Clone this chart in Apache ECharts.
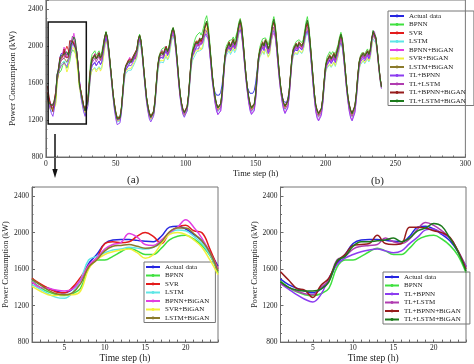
<!DOCTYPE html>
<html><head><meta charset="utf-8">
<script src="https://cdn.jsdelivr.net/npm/echarts@6/dist/echarts.min.js"></script>
<style>html,body{margin:0;padding:0;background:#fff}#c{width:474px;height:364px}</style>
</head><body><div id="c"></div>
<script>
const FONT = 'Liberation Serif';
const seriesNames = ['Actual data','BPNN','SVR','LSTM','BPNN+BiGAN','SVR+BiGAN','LSTM+BiGAN','TL+BPNN','TL+LSTM','TL+BPNN+BiGAN','TL+LSTM+BiGAN'];
const leftNames = ['Actual data','BPNN','SVR','LSTM','BPNN+BiGAN','SVR+BiGAN','LSTM+BiGAN'];
const rightNames = ['Actual data','BPNN','TL+BPNN','TL+LSTM','TL+BPNN+BiGAN','TL+LSTM+BiGAN'];
const colors = ['#2626e0','#3fe03f','#e31b1b','#5ee6e6','#e23ee2','#f0f03a','#8a7a2a','#8c3cf0','#b03cb0','#971c1c','#1c7a1c'];
const hours = [1,2,3,4,5,6,7,8,9,10,11,12,13,14,15,16,17,18,19,20,21,22,23,24];
const xTicksTop = [0,50,100,150,200,250,300];
const yTicks = [800,1200,1600,2000,2400];
const bottomXLabels = [5,10,15,20];
// zoom box drawn on the top panel (time step, kW)
const zoomBox = {t0: 1.6, t1: 28.9, v0: 1157, v1: 2263};

// Day 1 (shown in the lower panels)
const actual1 = [1490,1430,1390,1360,1340,1380,1480,1660,1760,1880,1920,1925,1925,1915,1905,1900,1960,2060,2070,2040,1980,1910,1790,1630];
const bpnn1 = [1470,1400,1350,1320,1310,1330,1390,1620,1700,1700,1740,1790,1830,1800,1760,1760,1830,1920,1960,1970,1930,1860,1750,1560];
const svr1 = [1500,1440,1390,1350,1340,1400,1510,1640,1720,1880,1900,1890,1900,1960,2000,1960,1880,2000,2060,2080,2020,2000,1820,1600];
const lstm1 = [1430,1380,1330,1290,1280,1340,1480,1700,1740,1780,1810,1820,1840,1830,1820,1840,1890,1990,2030,2020,1960,1880,1760,1590];
const bpnnBigan1 = [1460,1400,1390,1370,1360,1380,1480,1640,1720,1820,1870,1890,1990,1950,1870,1860,1920,2000,2060,2140,2060,1940,1780,1600];
const svrBigan1 = [1410,1360,1320,1310,1320,1320,1360,1600,1700,1760,1790,1810,1820,1780,1720,1760,1880,1980,2000,1980,1920,1840,1700,1540];
const lstmBigan1 = [1490,1430,1370,1330,1320,1340,1440,1620,1700,1800,1850,1860,1870,1850,1830,1840,1900,2010,2050,2050,1990,1910,1780,1580];
const tlBpnn1 = [1440,1380,1320,1270,1240,1320,1500,1650,1720,1760,1790,1810,1820,1800,1780,1800,1880,1950,2030,2040,1990,1940,1800,1620];
const tlLstm1 = [1440,1400,1360,1330,1320,1400,1480,1700,1740,1820,1850,1860,1870,1940,1900,1880,1930,2040,2110,2080,2020,1940,1800,1620];
const tlBpnnBigan1 = [1570,1480,1390,1370,1290,1420,1500,1680,1760,1860,1870,1880,1970,1880,1870,1880,2060,2060,2050,2020,2000,1950,1800,1600];
const tlLstmBigan1 = [1460,1400,1370,1360,1360,1380,1460,1690,1740,1850,1900,1900,1910,1920,1940,1900,1940,2020,2050,2100,2070,1940,1790,1580];

// Days 2-10 (top panel only)
const actualRest = [
1500,1420,1340,1290,1300,1390,1560,1720,1790,1800,1820,1790,1810,1840,1800,1830,1920,2030,2100,2060,1940,1790,1640,1480,
1360,1260,1190,1170,1200,1300,1480,1660,1740,1760,1790,1820,1800,1830,1870,1850,1920,2020,2080,2030,1900,1730,1570,1420,
1330,1260,1220,1230,1270,1380,1570,1750,1850,1880,1900,1870,1920,1950,1900,1940,2030,2110,2150,2100,1970,1800,1620,1470,
1370,1300,1270,1280,1330,1450,1640,1830,1900,1930,1970,2000,1980,2020,2000,2040,2100,2140,2160,2110,1980,1820,1650,1540,
1500,1470,1460,1470,1500,1580,1720,1880,1950,1960,1990,1950,1980,2010,1970,2000,2080,2160,2200,2150,2020,1850,1690,1560,
1520,1490,1480,1490,1520,1600,1730,1870,1930,1960,1990,1960,2020,1990,1930,1960,2070,2150,2190,2140,2000,1820,1660,1530,
1460,1400,1380,1390,1430,1520,1680,1850,1930,1960,1980,1950,1990,2010,1960,1990,2070,2130,2160,2110,1970,1800,1620,1450,
1340,1280,1250,1260,1300,1410,1590,1740,1800,1820,1850,1820,1840,1870,1830,1850,1940,2010,2060,2010,1880,1720,1560,1430,
1340,1280,1250,1270,1330,1460,1640,1790,1850,1870,1890,1860,1880,1910,1870,1920,2050,2150,2170,2080,1940,1790,1650,1560];
const bpnnRest = [
1520,1430,1350,1310,1330,1440,1650,1830,1910,1930,1950,1900,1920,1950,1900,1940,2020,2100,2160,2090,1960,1800,1650,1500,
1380,1290,1230,1210,1240,1340,1520,1700,1780,1800,1830,1850,1830,1860,1880,1870,1950,2060,2130,2070,1930,1760,1600,1450,
1350,1280,1250,1260,1300,1420,1620,1800,1900,1940,1970,1950,1990,2010,1960,2000,2090,2170,2200,2140,2000,1830,1650,1490,
1360,1290,1250,1250,1300,1440,1660,1880,1980,2040,2090,2120,2100,2150,2120,2160,2220,2290,2330,2240,2080,1890,1700,1560,
1460,1380,1340,1330,1380,1500,1700,1900,2000,2030,2060,2040,2070,2100,2060,2080,2170,2260,2300,2230,2070,1880,1700,1560,
1450,1370,1330,1320,1370,1480,1680,1880,1990,2040,2080,2060,2090,2060,2010,2030,2150,2260,2320,2240,2080,1880,1700,1550,
1450,1380,1350,1350,1400,1510,1700,1900,1990,2020,2050,2030,2070,2090,2040,2070,2160,2260,2320,2230,2060,1870,1680,1500,
1360,1300,1270,1270,1320,1430,1620,1800,1880,1900,1940,1910,1940,1960,1920,1940,2020,2100,2150,2090,1950,1780,1600,1460,
1360,1300,1270,1280,1340,1480,1660,1830,1900,1930,1950,1920,1940,1970,1930,1970,2080,2140,2150,2090,1960,1800,1650,1550];
const svrRest = [
1510,1440,1360,1310,1310,1400,1580,1760,1850,1880,1910,1860,1880,1900,1850,1880,1970,2080,2140,2080,1950,1800,1650,1490,
1370,1280,1220,1200,1230,1330,1500,1690,1770,1800,1840,1870,1820,1860,1900,1860,1940,2050,2110,2050,1920,1750,1590,1440,
1340,1270,1240,1250,1290,1400,1590,1780,1870,1910,1940,1900,1950,1990,1920,1960,2060,2140,2180,2120,1980,1810,1630,1480,
1380,1310,1280,1290,1340,1460,1650,1850,1930,1970,2020,2060,2010,2080,2040,2090,2150,2210,2250,2170,2020,1850,1680,1550,
1430,1360,1320,1310,1360,1480,1680,1870,1960,1990,2040,1990,2030,2070,2010,2040,2130,2220,2260,2190,2040,1860,1690,1550,
1440,1360,1310,1300,1350,1460,1660,1850,1950,1990,2030,2000,2060,2020,1960,1990,2110,2210,2260,2190,2040,1850,1680,1540,
1440,1370,1340,1340,1390,1500,1690,1880,1960,1990,2020,1980,2030,2050,1990,2020,2110,2200,2240,2170,2020,1840,1660,1480,
1350,1290,1260,1260,1310,1420,1610,1770,1830,1850,1890,1850,1870,1900,1860,1880,1970,2050,2100,2050,1910,1750,1580,1440,
1350,1290,1260,1280,1340,1470,1660,1810,1870,1900,1920,1890,1910,1940,1900,1950,2070,2140,2140,2070,1940,1790,1650,1560];
const lstmRest = [
1450,1370,1300,1260,1270,1360,1520,1680,1740,1760,1770,1740,1760,1780,1750,1780,1870,1980,2050,2010,1900,1750,1600,1450,
1330,1240,1180,1160,1190,1290,1450,1620,1700,1720,1740,1760,1740,1770,1800,1790,1870,1970,2030,1990,1870,1710,1550,1400,
1300,1230,1200,1210,1250,1360,1540,1710,1800,1830,1850,1820,1860,1890,1850,1880,1970,2060,2110,2060,1930,1770,1600,1450,
1340,1270,1240,1250,1300,1420,1600,1780,1850,1880,1910,1940,1920,1950,1930,1970,2040,2120,2170,2100,1970,1800,1630,1520,
1400,1330,1290,1280,1330,1450,1640,1820,1900,1920,1950,1910,1940,1970,1930,1960,2040,2130,2190,2130,1990,1820,1660,1530,
1410,1330,1290,1280,1330,1440,1630,1810,1880,1910,1940,1910,1960,1940,1890,1920,2030,2120,2170,2110,1970,1800,1640,1510,
1410,1340,1310,1310,1360,1470,1650,1820,1890,1920,1940,1910,1950,1970,1920,1950,2030,2110,2150,2090,1950,1780,1600,1440,
1320,1260,1230,1230,1280,1390,1560,1710,1760,1780,1800,1770,1790,1820,1780,1800,1890,1980,2030,1980,1860,1700,1540,1410,
1320,1260,1230,1250,1310,1430,1600,1750,1800,1820,1840,1810,1830,1860,1830,1870,1990,2080,2100,2030,1910,1760,1620,1540];
const bpnnBiganRest = [
1490,1400,1320,1280,1300,1400,1580,1760,1840,1880,1920,1860,1900,1930,1870,1900,1990,2080,2120,2060,1930,1780,1630,1470,
1340,1250,1190,1180,1220,1320,1500,1680,1770,1800,1850,1880,1820,1870,1910,1870,1950,2040,2090,2030,1900,1730,1570,1420,
1310,1240,1210,1220,1270,1390,1580,1770,1870,1920,1960,1900,1960,2000,1930,1960,2050,2110,2140,2080,1950,1780,1610,1460,
1350,1280,1250,1260,1320,1450,1650,1840,1920,1970,2030,2000,2050,2010,2040,2070,2110,2150,2170,2100,1970,1810,1640,1520,
1390,1310,1260,1250,1300,1430,1640,1840,1930,1970,2010,1960,2000,2040,1980,2010,2100,2180,2220,2150,2000,1830,1660,1520,
1400,1320,1270,1260,1310,1430,1630,1830,1920,1960,2000,1970,2040,2000,1920,1950,2050,2110,2140,2100,1970,1800,1640,1500,
1400,1320,1280,1280,1340,1460,1660,1860,1940,1970,2000,1960,2010,2030,1970,2000,2080,2160,2190,2120,1980,1800,1610,1440,
1300,1230,1200,1210,1270,1390,1580,1750,1810,1830,1870,1830,1860,1890,1840,1870,1960,2040,2090,2030,1890,1720,1550,1410,
1300,1230,1200,1220,1290,1430,1620,1780,1840,1860,1900,1860,1890,1920,1880,1930,2050,2130,2160,2080,1940,1780,1640,1540];
const svrBiganRest = [
1470,1390,1320,1280,1290,1370,1530,1680,1740,1750,1760,1720,1740,1770,1730,1760,1860,1980,2060,2020,1910,1760,1610,1460,
1340,1250,1190,1170,1200,1300,1460,1640,1720,1740,1760,1780,1760,1790,1820,1800,1880,1990,2060,2010,1880,1720,1560,1410,
1310,1240,1210,1220,1260,1370,1550,1730,1820,1850,1870,1840,1880,1910,1860,1900,1990,2080,2130,2080,1950,1790,1610,1460,
1350,1280,1250,1260,1310,1430,1620,1800,1880,1910,1950,1970,1950,1990,1960,2000,2070,2150,2200,2130,1990,1820,1650,1530,
1420,1350,1310,1300,1350,1470,1660,1840,1920,1940,1970,1930,1960,1990,1950,1980,2060,2150,2210,2140,2000,1830,1670,1540,
1430,1350,1310,1300,1350,1460,1650,1820,1890,1920,1950,1920,1970,1940,1880,1910,2030,2140,2200,2140,1990,1810,1650,1520,
1420,1350,1320,1320,1370,1480,1660,1830,1900,1930,1950,1920,1960,1980,1930,1960,2050,2150,2200,2130,1980,1800,1620,1460,
1330,1270,1240,1240,1290,1400,1570,1720,1770,1790,1810,1780,1800,1830,1790,1810,1900,1990,2050,2000,1870,1710,1550,1420,
1330,1270,1240,1260,1320,1440,1610,1760,1810,1830,1850,1820,1840,1870,1840,1880,2000,2090,2120,2050,1920,1770,1630,1550];
const lstmBiganRest = [
1510,1430,1350,1300,1310,1410,1590,1770,1860,1890,1910,1870,1890,1920,1870,1900,1990,2100,2150,2090,1960,1800,1650,1490,
1370,1270,1210,1190,1220,1320,1500,1690,1780,1810,1840,1860,1840,1870,1900,1880,1960,2070,2120,2060,1920,1750,1590,1440,
1340,1270,1230,1240,1280,1400,1600,1790,1880,1920,1950,1920,1960,1990,1940,1980,2070,2160,2200,2140,2000,1830,1640,1480,
1380,1310,1280,1290,1340,1470,1670,1870,1960,2000,2050,2070,2050,2090,2060,2100,2170,2240,2270,2190,2040,1860,1680,1550,
1440,1370,1330,1320,1370,1490,1690,1880,1970,2010,2050,2010,2040,2080,2030,2060,2150,2240,2290,2220,2060,1880,1700,1560,
1450,1370,1320,1310,1360,1470,1670,1870,1960,2010,2050,2020,2070,2040,1980,2010,2130,2230,2290,2220,2060,1870,1690,1550,
1450,1380,1350,1350,1400,1510,1700,1890,1970,2000,2030,2000,2050,2070,2010,2040,2130,2230,2280,2200,2040,1850,1670,1490,
1360,1300,1270,1270,1320,1430,1620,1780,1850,1870,1910,1870,1900,1930,1890,1910,2000,2080,2130,2070,1930,1760,1590,1450,
1360,1300,1270,1290,1350,1480,1670,1820,1880,1910,1930,1900,1920,1950,1910,1960,2080,2160,2170,2090,1960,1800,1660,1560];
const tlBpnnRest = [
1460,1370,1290,1240,1250,1350,1530,1710,1790,1810,1830,1790,1810,1840,1800,1830,1920,2020,2080,2030,1910,1760,1610,1450,
1310,1210,1150,1140,1170,1280,1460,1650,1740,1760,1790,1810,1790,1820,1850,1830,1910,2010,2070,2010,1880,1710,1540,1390,
1290,1210,1180,1190,1240,1360,1560,1750,1850,1880,1900,1870,1920,1950,1900,1930,2020,2100,2130,2070,1940,1770,1590,1440,
1330,1260,1230,1240,1300,1430,1630,1820,1900,1930,1970,1990,1970,2010,1990,2030,2090,2130,2140,2080,1950,1790,1620,1500,
1380,1300,1260,1250,1300,1430,1640,1840,1930,1960,1990,1950,1980,2010,1970,2000,2080,2150,2180,2120,1980,1810,1640,1510,
1390,1300,1260,1250,1300,1420,1620,1820,1910,1950,1980,1950,2010,1980,1920,1950,2060,2140,2170,2110,1970,1790,1630,1500,
1390,1310,1270,1270,1330,1450,1650,1840,1920,1950,1980,1950,1990,2010,1960,1990,2070,2140,2170,2100,1960,1780,1600,1430,
1290,1220,1190,1190,1250,1370,1560,1730,1790,1810,1840,1810,1830,1860,1820,1840,1930,2000,2040,1990,1860,1700,1540,1400,
1290,1220,1190,1210,1280,1420,1610,1770,1830,1850,1870,1840,1860,1890,1860,1900,2030,2120,2140,2060,1930,1780,1640,1550];
const tlLstmRest = [
1490,1410,1340,1300,1310,1400,1570,1740,1820,1840,1870,1830,1850,1890,1840,1870,1960,2070,2120,2070,1940,1790,1640,1480,
1350,1260,1200,1180,1210,1310,1490,1670,1760,1790,1820,1840,1820,1850,1890,1860,1940,2040,2100,2040,1910,1740,1580,1430,
1320,1250,1220,1230,1270,1390,1580,1760,1860,1900,1920,1890,1940,1970,1920,1960,2050,2130,2170,2110,1970,1800,1620,1470,
1360,1290,1260,1270,1320,1450,1650,1840,1920,1960,2000,2030,2000,2050,2020,2060,2120,2180,2200,2130,1990,1830,1660,1530,
1410,1340,1300,1290,1340,1460,1660,1850,1940,1970,2010,1970,2000,2040,1990,2020,2110,2190,2230,2160,2010,1840,1670,1540,
1420,1340,1300,1290,1340,1450,1650,1840,1930,1970,2010,1980,2040,2010,1950,1980,2090,2170,2210,2150,2010,1830,1670,1530,
1420,1350,1320,1320,1370,1480,1670,1860,1940,1970,2000,1970,2010,2030,1980,2010,2090,2170,2210,2140,1990,1810,1630,1460,
1330,1270,1240,1240,1290,1400,1590,1760,1820,1840,1870,1840,1860,1890,1850,1870,1960,2030,2080,2030,1890,1730,1560,1430,
1330,1270,1240,1260,1320,1450,1640,1800,1860,1880,1900,1870,1890,1920,1890,1930,2060,2150,2170,2080,1950,1790,1650,1560];
const tlBpnnBiganRest = [
1520,1440,1360,1310,1320,1420,1600,1780,1870,1890,1910,1870,1900,1930,1880,1910,2000,2100,2150,2090,1960,1800,1650,1490,
1380,1280,1220,1200,1230,1330,1510,1700,1790,1810,1850,1870,1850,1880,1910,1890,1970,2070,2120,2060,1920,1750,1590,1440,
1350,1280,1240,1250,1290,1410,1610,1790,1890,1930,1950,1920,1970,2000,1950,1980,2070,2150,2190,2130,1990,1820,1640,1480,
1390,1320,1290,1300,1350,1480,1680,1870,1950,1990,2040,2060,2040,2080,2050,2090,2160,2220,2250,2170,2030,1860,1680,1550,
1450,1380,1340,1330,1380,1500,1700,1880,1970,2000,2040,2000,2040,2070,2020,2050,2140,2230,2270,2200,2050,1870,1700,1560,
1460,1380,1340,1330,1380,1490,1690,1870,1960,2000,2040,2010,2070,2040,1980,2010,2120,2210,2260,2200,2050,1860,1690,1550,
1460,1390,1360,1360,1410,1520,1710,1890,1970,2000,2030,2000,2040,2060,2010,2040,2120,2210,2250,2180,2030,1850,1670,1490,
1370,1310,1280,1280,1330,1440,1630,1790,1850,1870,1900,1870,1890,1920,1880,1900,1990,2070,2120,2060,1920,1760,1590,1450,
1370,1310,1280,1300,1360,1490,1680,1830,1890,1910,1930,1900,1920,1950,1920,1960,2080,2150,2160,2080,1950,1800,1660,1560];
const tlLstmBiganRest = [
1500,1420,1350,1300,1310,1400,1580,1760,1850,1870,1900,1860,1880,1910,1870,1900,1990,2090,2150,2100,1970,1810,1650,1490,
1360,1270,1210,1190,1220,1320,1500,1690,1780,1800,1830,1850,1830,1860,1890,1870,1950,2060,2120,2060,1920,1750,1590,1440,
1340,1270,1230,1240,1280,1400,1600,1780,1880,1920,1940,1910,1950,1980,1940,1980,2070,2160,2200,2140,2000,1830,1650,1490,
1380,1310,1280,1290,1340,1470,1670,1860,1950,1990,2030,2050,2030,2070,2050,2090,2160,2230,2270,2190,2040,1870,1690,1550,
1440,1370,1330,1320,1370,1490,1690,1870,1960,2000,2030,1990,2030,2060,2010,2050,2140,2230,2280,2210,2060,1880,1700,1560,
1450,1370,1330,1320,1370,1480,1680,1860,1950,1990,2030,2000,2060,2030,1970,2000,2120,2230,2290,2210,2050,1870,1690,1550,
1450,1380,1350,1350,1400,1510,1700,1880,1960,1990,2020,1990,2030,2050,2000,2030,2120,2230,2280,2200,2040,1860,1670,1490,
1360,1300,1270,1270,1320,1430,1620,1780,1840,1860,1890,1860,1880,1910,1870,1890,1980,2070,2130,2070,1930,1760,1590,1450,
1360,1300,1270,1290,1350,1480,1670,1820,1880,1900,1920,1890,1910,1940,1910,1950,2080,2170,2190,2100,1960,1810,1660,1560];

const day1 = [actual1,bpnn1,svr1,lstm1,bpnnBigan1,svrBigan1,lstmBigan1,tlBpnn1,tlLstm1,tlBpnnBigan1,tlLstmBigan1];
const rest = [actualRest,bpnnRest,svrRest,lstmRest,bpnnBiganRest,svrBiganRest,lstmBiganRest,tlBpnnRest,tlLstmRest,tlBpnnBiganRest,tlLstmBiganRest];

const axisColor = '#6a6a6a';
const labelStyle = {fontFamily: FONT, fontSize: 7.5, color: '#222', formatter: (v) => String(v)};
function yAxis(gridIndex, max, gap, nameSize) {
  return {
    type: 'value', gridIndex, min: 800, max, interval: 400,
    name: 'Power Consumption (kW)', nameLocation: 'middle', nameGap: gap,
    nameTextStyle: {fontFamily: FONT, fontSize: nameSize, color: '#222'},
    axisLine: {show: true, lineStyle: {color: axisColor}},
    axisTick: {show: true, inside: true, length: 3, lineStyle: {color: axisColor}},
    minorTick: {show: true, splitNumber: 4, length: 1.5, lineStyle: {color: axisColor}},
    splitLine: {show: false},
    axisLabel: Object.assign({margin: 3, customValues: yTicks}, labelStyle)
  };
}
function xAxisBottom(gridIndex) {
  return {
    type: 'value', gridIndex, min: 1, max: 24,
    name: 'Time step (h)', nameLocation: 'middle', nameGap: 8,
    nameTextStyle: {fontFamily: FONT, fontSize: 9.5, color: '#222'},
    axisLine: {show: true, lineStyle: {color: axisColor}},
    axisTick: {show: true, inside: true, length: 2.5, customValues: hours, lineStyle: {color: axisColor}},
    splitLine: {show: false},
    axisLabel: Object.assign({margin: 2, customValues: bottomXLabels}, labelStyle)
  };
}

const series = [];
seriesNames.forEach((name, i) => {
  const vals = day1[i].concat(rest[i]);
  const s = {
    type: 'line', name, xAxisIndex: 0, yAxisIndex: 0,
    data: vals.map((v, j) => [j + 1, v]),
    showSymbol: false, symbol: 'circle', symbolSize: 3,
    lineStyle: {width: 0.9, color: colors[i]}, itemStyle: {color: colors[i]},
    z: 2 + i
  };
  if (i === 0) {
    s.markArea = {silent: true, z: 20, itemStyle: {color: 'rgba(0,0,0,0)', borderColor: '#111', borderWidth: 1.5},
      data: [[{coord: [zoomBox.t0, zoomBox.v1]}, {coord: [zoomBox.t1, zoomBox.v0]}]]};
  }
  series.push(s);
});
function bottomSeries(list, axisIndex) {
  list.forEach((name) => {
    const i = seriesNames.indexOf(name);
    series.push({
      type: 'line', name, xAxisIndex: axisIndex, yAxisIndex: axisIndex,
      data: hours.map((h, j) => [h, day1[i][j]]),
      smooth: 0.4, showSymbol: false, symbol: 'circle', symbolSize: 3,
      lineStyle: {width: 1.5, color: colors[i]}, itemStyle: {color: colors[i]},
      z: 2 + i
    });
  });
}
bottomSeries(leftNames, 1);
bottomSeries(rightNames, 2);

const legendBase = {
  orient: 'vertical', itemWidth: 14, itemHeight: 3.5, itemGap: 1.5,
  borderColor: '#777', borderWidth: 1, selectedMode: false,
  textStyle: {fontFamily: FONT, fontSize: 7, color: '#222'}
};

const option = {
  animation: false,
  backgroundColor: '#fff',
  grid: [
    {left: 32, top: 0, width: 436, height: 157, show: true, borderColor: '#777', borderWidth: 1},
    {left: 32, top: 187, width: 186, height: 157, show: true, borderColor: '#777', borderWidth: 1},
    {left: 280.5, top: 187, width: 185.5, height: 157.5, show: true, borderColor: '#777', borderWidth: 1}
  ],
  xAxis: [
    {
      type: 'value', gridIndex: 0, min: 0, max: 300, interval: 50,
      name: 'Time step (h)', nameLocation: 'middle', nameGap: 12,
      nameTextStyle: {fontFamily: FONT, fontSize: 8.5, color: '#222'},
      axisLine: {show: true, lineStyle: {color: axisColor}},
      axisTick: {show: true, inside: true, length: 3, lineStyle: {color: axisColor}},
      minorTick: {show: true, splitNumber: 6, length: 1.5, lineStyle: {color: axisColor}},
      splitLine: {show: false},
      axisLabel: Object.assign({margin: 3, customValues: xTicksTop}, labelStyle)
    },
    xAxisBottom(1),
    xAxisBottom(2)
  ],
  yAxis: [yAxis(0, 2500, 21, 9), yAxis(1, 2500, 21, 8.2), yAxis(2, 2500, 21, 8.2)],
  legend: [
    Object.assign({}, legendBase, {data: seriesNames, left: 388, top: 11, padding: [1.5, 8, 1, 1]}),
    Object.assign({}, legendBase, {data: leftNames, left: 144, top: 262, padding: [1.5, 6, 1, 1]}),
    Object.assign({}, legendBase, {data: rightNames, left: 383, top: 272, padding: [1.5, 9, 1, 1]})
  ],
  graphic: [
    {type: 'text', left: 127, top: 175, style: {text: '(a)', fontFamily: FONT, fontSize: 11, fill: '#222'}},
    {type: 'text', left: 371, top: 176, style: {text: '(b)', fontFamily: FONT, fontSize: 11, fill: '#222'}},
    {type: 'line', shape: {x1: 55, y1: 134, x2: 55, y2: 171}, style: {stroke: '#111', lineWidth: 1.5}},
    {type: 'polygon', shape: {points: [[52.3, 169], [57.7, 169], [55, 178]]}, style: {fill: '#111'}}
  ],
  series
};
const chart = echarts.init(document.getElementById('c'), null, {renderer: 'canvas'});
chart.setOption(option);
</script></body></html>
